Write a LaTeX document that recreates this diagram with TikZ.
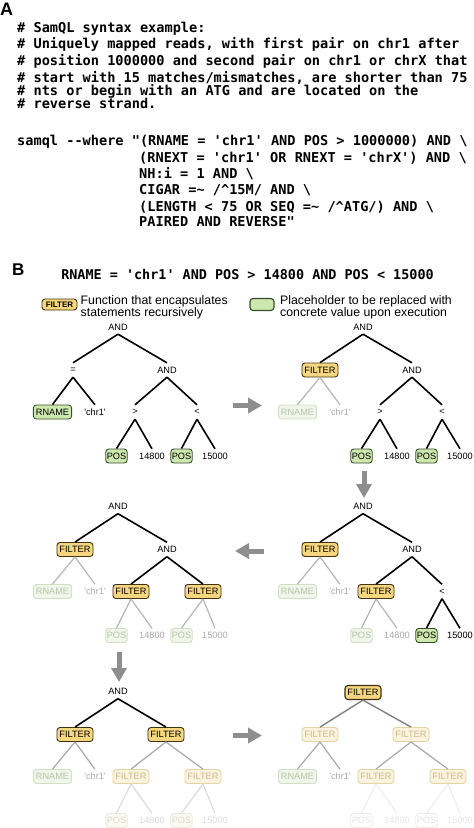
\documentclass[tikz,border=0pt]{standalone}
\usepackage{fontspec}
\setmainfont{Liberation Sans}
\setmonofont{DejaVu Sans Mono}
\usetikzlibrary{arrows.meta}
\definecolor{filtfill}{HTML}{F6D67F}
\definecolor{filtdraw}{HTML}{3F3213}
\definecolor{phfill}{HTML}{CDE8AE}
\definecolor{phdraw}{HTML}{344F27}
\definecolor{ffill}{HTML}{FBF3DE}
\definecolor{fdraw}{HTML}{E2D4A6}
\definecolor{ftext}{HTML}{C8BA90}
\definecolor{pffill}{HTML}{F1F6EB}
\definecolor{pfdraw}{HTML}{D0DEC3}
\definecolor{pftext}{HTML}{B5C3A9}
\definecolor{gtext}{HTML}{AAAAAA}
\definecolor{vffill}{HTML}{FAFAF3}
\definecolor{vfdraw}{HTML}{E9E9DC}
\definecolor{vftext}{HTML}{DCDCCC}
\definecolor{vgtext}{HTML}{DADADA}
\definecolor{arrowgray}{HTML}{8E8E8E}
\tikzset{
  treefont/.style={font=\fontsize{9.2}{10}\selectfont},
  op/.style={treefont, inner xsep=1pt, inner ysep=0pt, minimum height=14pt, text=black},
  val/.style={op},
  valF/.style={op, text=gtext},
  valVF/.style={op, text=vgtext},
  box/.style={treefont, rounded corners=3pt, inner xsep=2.5pt, inner ysep=0pt, minimum height=14pt, line width=0.9pt},
  filt/.style={box, fill=filtfill, draw=filtdraw},
  filtTop/.style={box, fill=filtfill, draw=filtdraw, line width=1.2pt},
  filtF/.style={box, fill=ffill, draw=fdraw, text=ftext},
  ph/.style={box, fill=phfill, draw=phdraw},
  phF/.style={box, fill=pffill, draw=pfdraw, text=pftext},
  phVF/.style={box, fill=vffill, draw=vfdraw, text=vftext},
  narrow/.style={inner xsep=1pt},
  eS/.style={line width=1.6pt, draw=black},
  eF/.style={line width=1.2pt, draw=black!29},
  eG/.style={line width=1.2pt, draw=black!34},
  eM/.style={line width=1.4pt, draw=black!50},
  eV/.style={line width=1.1pt, draw=black!15},
  eVV/.style={line width=1.1pt, draw=black!7},
  bigarrow/.style={draw=arrowgray, line width=5pt, -{Triangle[length=14pt,width=15pt]}},
  code/.style={font=\ttfamily\bfseries\fontsize{13.6}{16}\selectfont\frenchspacing, anchor=base west, inner sep=0pt},
  legend/.style={font=\fontsize{12.3}{13}\selectfont, anchor=base west, inner sep=0pt},
  panel/.style={font=\bfseries\fontsize{18}{20}\selectfont, anchor=base west, inner sep=0pt}
}
\begin{document}
\begin{tikzpicture}[x=1pt,y=-1pt]
\useasboundingbox (0,0) rectangle (474,828);
% Panel A
\node[panel] (lblA) at (0,15) {A};
\node[code] (c1) at (17,32) {\# SamQL syntax example:};
\node[code] (c2) at (17,48) {\# Uniquely mapped reads, with first pair on chr1 after};
\node[code] (c3) at (17,65) {\# position 1000000 and second pair on chr1 or chrX that};
\node[code] (c4) at (17,82) {\# start with 15 matches/mismatches, are shorter than 75};
\node[code] (c5) at (17,95) {\# nts or begin with an ATG and are located on the};
\node[code] (c6) at (17,108) {\# reverse strand.};
\node[code] (d1) at (17,145) {samql -{}-where \textquotedbl(RNAME = \textquotesingle chr1\textquotesingle{} AND POS > 1000000) AND \textbackslash};
\node[code] (d2) at (139,162) {(RNEXT = \textquotesingle chr1\textquotesingle{} OR RNEXT = \textquotesingle chrX\textquotesingle) AND \textbackslash};
\node[code] (d3) at (139,178) {NH:i = 1 AND \textbackslash};
\node[code] (d4) at (139,194) {CIGAR =\textasciitilde{} /\textasciicircum 15M/ AND \textbackslash};
\node[code] (d5) at (139,211) {(LENGTH < 75 OR SEQ =\textasciitilde{} /\textasciicircum ATG/) AND \textbackslash};
\node[code] (d6) at (139,226) {PAIRED AND REVERSE\textquotedbl};
% Panel B
\node[panel, font=\bfseries\fontsize{17}{19}\selectfont] (lblB) at (12,275) {B};
\node[code, anchor=base, font=\ttfamily\bfseries\fontsize{13.45}{16}\selectfont] (title) at (247.5,279.5) {RNAME = \textquotesingle chr1\textquotesingle{} AND POS > 14800 AND POS < 15000};
\node[filt, font=\bfseries\fontsize{8}{9}\selectfont, minimum height=11pt, minimum width=35pt, inner xsep=1pt] (legF) at (59.5,304.5) {FILTER};
\node[legend] (legT1) at (80.5,304) {Function that encapsulates};
\node[legend] (legT2) at (80.5,316) {statements recursively};
\node[ph, minimum width=24pt, minimum height=12pt, line width=1.2pt] (legG) at (262,304.5) {};
\node[legend] (legT3) at (280,304) {Placeholder to be replaced with};
\node[legend] (legT4) at (280,316) {concrete value upon execution};

% Tree 1
\begin{scope}
\node[op] (t1r) at (118,327) {AND};
\node[op] (t1a) at (73,370) {=};
\node[op] (t1b) at (167,370) {AND};
\node[ph] (t1c) at (52.5,412) {RNAME};
\node[val] (t1d) at (95,412) {\textquotesingle chr1\textquotesingle};
\node[op] (t1e) at (135,412) {>};
\node[op] (t1f) at (197,412) {<};
\node[ph,narrow] (t1g) at (116.5,456) {POS};
\node[val] (t1h) at (152,456) {14800};
\node[ph,narrow] (t1i) at (181.5,456) {POS};
\node[val] (t1j) at (215,456) {15000};
\draw[eS] (t1r.south) -- (t1a.north);
\draw[eS] (t1r.south) -- (t1b.north);
\draw[eS] (t1a.south) -- (t1c.north);
\draw[eS] (t1a.south) -- (t1d.north);
\draw[eS] (t1b.south) -- (t1e.north);
\draw[eS] (t1b.south) -- (t1f.north);
\draw[eS] (t1e.south) -- (t1g.north);
\draw[eS] (t1e.south) -- (t1h.north);
\draw[eS] (t1f.south) -- (t1i.north);
\draw[eS] (t1f.south) -- (t1j.north);
\end{scope}

% Tree 2
\begin{scope}[shift={(245,0)}]
\node[op] (t2r) at (118,327) {AND};
\node[filt] (t2a) at (75,370) {FILTER};
\node[op] (t2b) at (167,370) {AND};
\node[phF] (t2c) at (52.5,412) {RNAME};
\node[valF] (t2d) at (95,412) {\textquotesingle chr1\textquotesingle};
\node[op] (t2e) at (135,412) {>};
\node[op] (t2f) at (197,412) {<};
\node[ph,narrow] (t2g) at (116.5,456) {POS};
\node[val] (t2h) at (152,456) {14800};
\node[ph,narrow] (t2i) at (181.5,456) {POS};
\node[val] (t2j) at (215,456) {15000};
\draw[eS] (t2r.south) -- (t2a.north);
\draw[eS] (t2r.south) -- (t2b.north);
\draw[eF] (t2a.south) -- (t2c.north);
\draw[eF] (t2a.south) -- (t2d.north);
\draw[eS] (t2b.south) -- (t2e.north);
\draw[eS] (t2b.south) -- (t2f.north);
\draw[eS] (t2e.south) -- (t2g.north);
\draw[eS] (t2e.south) -- (t2h.north);
\draw[eS] (t2f.south) -- (t2i.north);
\draw[eS] (t2f.south) -- (t2j.north);
\end{scope}

% Tree 3
\begin{scope}[shift={(245,179.5)}]
\node[op] (t3r) at (118,327) {AND};
\node[filt] (t3a) at (75,370) {FILTER};
\node[op] (t3b) at (167,370) {AND};
\node[phF] (t3c) at (52.5,412) {RNAME};
\node[valF] (t3d) at (95,412) {\textquotesingle chr1\textquotesingle};
\node[filt] (t3e) at (131,412) {FILTER};
\node[op] (t3f) at (197,412) {<};
\node[phF,narrow] (t3g) at (116.5,456) {POS};
\node[valF] (t3h) at (152,456) {14800};
\node[ph,narrow] (t3i) at (181.5,456) {POS};
\node[val] (t3j) at (215,456) {15000};
\draw[eS] (t3r.south) -- (t3a.north);
\draw[eS] (t3r.south) -- (t3b.north);
\draw[eF] (t3a.south) -- (t3c.north);
\draw[eF] (t3a.south) -- (t3d.north);
\draw[eS] (t3b.south) -- (t3e.north);
\draw[eS] (t3b.south) -- (t3f.north);
\draw[eF] (t3e.south) -- (t3g.north);
\draw[eF] (t3e.south) -- (t3h.north);
\draw[eS] (t3f.south) -- (t3i.north);
\draw[eS] (t3f.south) -- (t3j.north);
\end{scope}

% Tree 4
\begin{scope}[shift={(0,179.5)}]
\node[op] (t4r) at (118,327) {AND};
\node[filt] (t4a) at (75,370) {FILTER};
\node[op] (t4b) at (167,370) {AND};
\node[phF] (t4c) at (52.5,412) {RNAME};
\node[valF] (t4d) at (95,412) {\textquotesingle chr1\textquotesingle};
\node[filt] (t4e) at (131,412) {FILTER};
\node[filt] (t4f) at (203,412) {FILTER};
\node[phF,narrow] (t4g) at (116.5,456) {POS};
\node[valF] (t4h) at (152,456) {14800};
\node[phF,narrow] (t4i) at (181.5,456) {POS};
\node[valF] (t4j) at (215,456) {15000};
\draw[eS] (t4r.south) -- (t4a.north);
\draw[eS] (t4r.south) -- (t4b.north);
\draw[eF] (t4a.south) -- (t4c.north);
\draw[eF] (t4a.south) -- (t4d.north);
\draw[eS] (t4b.south) -- (t4e.north);
\draw[eS] (t4b.south) -- (t4f.north);
\draw[eF] (t4e.south) -- (t4g.north);
\draw[eF] (t4e.south) -- (t4h.north);
\draw[eF] (t4f.south) -- (t4i.north);
\draw[eF] (t4f.south) -- (t4j.north);
\end{scope}

% Tree 5
\begin{scope}[shift={(0,364.5)}]
\node[op] (t5r) at (118,327) {AND};
\node[filt] (t5a) at (75,370) {FILTER};
\node[filt] (t5b) at (166,370) {FILTER};
\node[phF] (t5c) at (52.5,412) {RNAME};
\node[valF] (t5d) at (95,412) {\textquotesingle chr1\textquotesingle};
\node[filtF] (t5e) at (131,412) {FILTER};
\node[filtF] (t5f) at (203,412) {FILTER};
\node[phVF,narrow] (t5g) at (116.5,456) {POS};
\node[valVF] (t5h) at (152,456) {14800};
\node[phVF,narrow] (t5i) at (181.5,456) {POS};
\node[valVF] (t5j) at (215,456) {15000};
\draw[eS] (t5r.south) -- (t5a.north);
\draw[eS] (t5r.south) -- (t5b.north);
\draw[eG] (t5a.south) -- (t5c.north);
\draw[eG] (t5a.south) -- (t5d.north);
\draw[eG] (t5b.south) -- (t5e.north);
\draw[eG] (t5b.south) -- (t5f.north);
\draw[eV] (t5e.south) -- (t5g.north);
\draw[eV] (t5e.south) -- (t5h.north);
\draw[eV] (t5f.south) -- (t5i.north);
\draw[eV] (t5f.south) -- (t5j.north);
\end{scope}

% Tree 6
\begin{scope}[shift={(245,364.5)}]
\node[filtTop] (t6r) at (118,328) {FILTER};
\node[filtF] (t6a) at (75,370) {FILTER};
\node[filtF] (t6b) at (166,370) {FILTER};
\node[phF] (t6c) at (52.5,412) {RNAME};
\node[valF] (t6d) at (95,412) {\textquotesingle chr1\textquotesingle};
\node[filtF] (t6e) at (131,412) {FILTER};
\node[filtF] (t6f) at (203,412) {FILTER};
\node[phVF,narrow,draw=black!8,text=black!10,fill=white] (t6g) at (116.5,456) {POS};
\node[valVF,text=black!10] (t6h) at (152,456) {14800};
\node[phVF,narrow,draw=black!8,text=black!10,fill=white] (t6i) at (181.5,456) {POS};
\node[valVF,text=black!10] (t6j) at (215,456) {15000};
\draw[eM] (t6r.south) -- (t6a.north);
\draw[eM] (t6r.south) -- (t6b.north);
\draw[eG] (t6a.south) -- (t6c.north);
\draw[eG] (t6a.south) -- (t6d.north);
\draw[eG] (t6b.south) -- (t6e.north);
\draw[eG] (t6b.south) -- (t6f.north);
\draw[eVV] (t6e.south) -- (t6g.north);
\draw[eVV] (t6e.south) -- (t6h.north);
\draw[eVV] (t6f.south) -- (t6i.north);
\draw[eVV] (t6f.south) -- (t6j.north);
\end{scope}

% transition arrows
\coordinate (ar1s) at (233,405.5); \coordinate (ar1e) at (262,405.5);
\coordinate (ar2s) at (364,471); \coordinate (ar2e) at (364,498);
\coordinate (ar3s) at (264,551); \coordinate (ar3e) at (235,551);
\coordinate (ar4s) at (119,652); \coordinate (ar4e) at (119,682);
\coordinate (ar5s) at (233,735.5); \coordinate (ar5e) at (262,735.5);
\draw[bigarrow] (ar1s) -- (ar1e);
\draw[bigarrow] (ar2s) -- (ar2e);
\draw[bigarrow] (ar3s) -- (ar3e);
\draw[bigarrow] (ar4s) -- (ar4e);
\draw[bigarrow] (ar5s) -- (ar5e);
\end{tikzpicture}
\end{document}
